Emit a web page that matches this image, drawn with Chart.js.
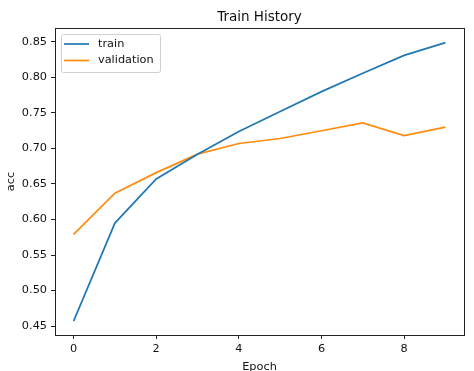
<!DOCTYPE html>
<html>
<head>
<meta charset="utf-8">
<script src="https://cdn.jsdelivr.net/npm/chart.js@4/dist/chart.umd.min.js"></script>
<style>
    body { margin: 0; background: #fff; }
    canvas { display: block; }
</style>
</head>
<body>
<canvas id="history-chart" width="474" height="371"></canvas>
<script>
// values
const epochs = [0, 1, 2, 3, 4, 5, 6, 7, 8, 9];
const trainAcc = [0.457, 0.595, 0.657, 0.692, 0.724, 0.752, 0.780, 0.806, 0.831, 0.849];
const valAcc = [0.579, 0.637, 0.666, 0.692, 0.707, 0.714, 0.725, 0.736, 0.718, 0.730];
const xTicks = [0, 2, 4, 6, 8];
const yTicks = [0.45, 0.50, 0.55, 0.60, 0.65, 0.70, 0.75, 0.80, 0.85];

const FONT = "'DejaVu Sans', sans-serif";

// matplotlib style: box around the axes
const framePlugin = {
    id: "frame",
    afterDatasetsDraw(chart) {
        const { ctx, chartArea } = chart;
        ctx.save();
        ctx.strokeStyle = "#222";
        ctx.lineWidth = 1;
        ctx.strokeRect(Math.round(chartArea.left) + 0.5, Math.round(chartArea.top) + 0.5,
            Math.round(chartArea.right - chartArea.left), Math.round(chartArea.bottom - chartArea.top));
        ctx.restore();
    }
};

// legend drawn inside the plot, upper left
const innerLegend = {
    id: "innerLegend",
    afterDraw(chart) {
        const { ctx, chartArea } = chart;
        const x = chartArea.left + 6;
        const y = chartArea.top + 6;
        const w = 99;
        const h = 38;
        ctx.save();
        ctx.beginPath();
        ctx.roundRect(x + 0.5, y + 0.5, w, h, 2);
        ctx.fillStyle = "rgba(255,255,255,0.8)";
        ctx.fill();
        ctx.strokeStyle = "#d0d0d0";
        ctx.lineWidth = 1;
        ctx.stroke();
        ctx.font = "11.3px " + FONT;
        ctx.textBaseline = "middle";
        chart.data.datasets.forEach((ds, i) => {
            const rowY = y + 10 + i * 16.5;
            ctx.strokeStyle = ds.borderColor;
            ctx.lineWidth = 1.7;
            ctx.beginPath();
            ctx.moveTo(x + 3, rowY);
            ctx.lineTo(x + 28, rowY);
            ctx.stroke();
            ctx.fillStyle = "#111";
            ctx.fillText(ds.label, x + 37, rowY);
        });
        ctx.restore();
    }
};

new Chart(document.getElementById("history-chart"), {
    type: "line",
    data: {
        datasets: [
            {
                label: "train",
                data: epochs.map((e, i) => ({ x: e, y: trainAcc[i] })),
                borderColor: "#1f77b4",
                borderWidth: 1.7,
                pointRadius: 0,
                tension: 0,
                fill: false,
            },
            {
                label: "validation",
                data: epochs.map((e, i) => ({ x: e, y: valAcc[i] })),
                borderColor: "#ff8c0e",
                borderWidth: 1.7,
                pointRadius: 0,
                tension: 0,
                fill: false,
            },
        ],
    },
    options: {
        responsive: false,
        animation: false,
        devicePixelRatio: 1,
        layout: { padding: { top: 0, left: 0, right: 10, bottom: 0 } },
        plugins: {
            legend: { display: false },
            tooltip: { enabled: false },
            title: {
                display: true,
                text: "Train History",
                fullSize: false,
                color: "#111",
                font: { family: FONT, size: 13.5, weight: "normal" },
                padding: { top: 9, bottom: 2.8 },
            },
        },
        scales: {
            x: {
                type: "linear",
                min: -0.45,
                max: 9.45,
                afterBuildTicks: (scale) => {
                    scale.ticks = xTicks.map((v) => ({ value: v }));
                },
                afterFit: (scale) => {
                    scale.height = 36;
                },
                ticks: {
                    color: "#111",
                    padding: 3,
                    maxRotation: 0,
                    font: { family: FONT, size: 11.3 },
                    callback: (v) => String(v),
                },
                grid: { drawOnChartArea: false, drawTicks: true, tickLength: 4, tickColor: "#222" },
                border: { display: false },
                title: {
                    display: true,
                    text: "Epoch",
                    color: "#111",
                    font: { family: FONT, size: 11.3 },
                    padding: { top: -3, bottom: -3 },
                },
            },
            y: {
                type: "linear",
                min: 0.4374,
                max: 0.8696,
                afterBuildTicks: (scale) => {
                    scale.ticks = yTicks.map((v) => ({ value: v }));
                },
                afterFit: (scale) => {
                    scale.width = 55;
                },
                ticks: {
                    color: "#111",
                    padding: 4,
                    font: { family: FONT, size: 11.3 },
                    callback: (v) => Number(v).toFixed(2),
                },
                grid: { drawOnChartArea: false, drawTicks: true, tickLength: 4, tickColor: "#222" },
                border: { display: false },
                title: {
                    display: true,
                    text: "acc",
                    color: "#111",
                    font: { family: FONT, size: 11.3 },
                    padding: { top: 4, bottom: 0 },
                },
            },
        },
    },
    plugins: [framePlugin, innerLegend],
});
</script>
</body>
</html>
